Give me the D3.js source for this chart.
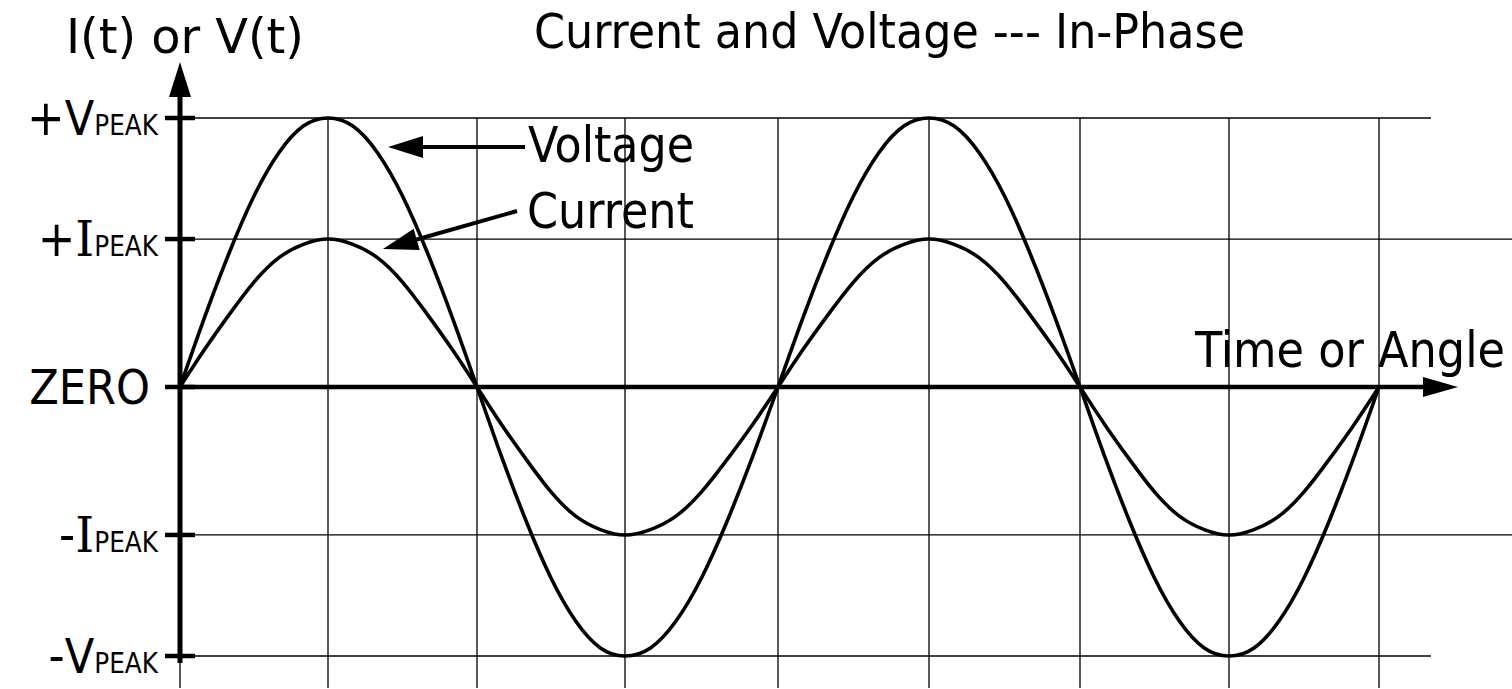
<!DOCTYPE html>
<html>
<head>
<meta charset="utf-8">
<script src="https://cdn.jsdelivr.net/npm/d3@7"></script>
<style>
  body { margin: 0; background: #fff; }
  svg { display: block; font-family: "DejaVu Sans Condensed", "DejaVu Sans", sans-serif; }
</style>
</head>
<body>
<script>
// Angle in degrees, sampled every 15 degrees across two cycles.
var angles = [0, 15, 30, 45, 60, 75, 90, 105, 120, 135, 150, 165,
              180, 195, 210, 225, 240, 255, 270, 285, 300, 315, 330, 345,
              360, 375, 390, 405, 420, 435, 450, 465, 480, 495, 510, 525,
              540, 555, 570, 585, 600, 615, 630, 645, 660, 675, 690, 705, 720];

// Voltage, as a fraction of VPEAK.
var voltage = [0, 0.26, 0.50, 0.71, 0.87, 0.97, 1.00, 0.97, 0.87, 0.71, 0.50, 0.26,
               0, -0.26, -0.50, -0.71, -0.87, -0.97, -1.00, -0.97, -0.87, -0.71, -0.50, -0.26,
               0, 0.26, 0.50, 0.71, 0.87, 0.97, 1.00, 0.97, 0.87, 0.71, 0.50, 0.26,
               0, -0.26, -0.50, -0.71, -0.87, -0.97, -1.00, -0.97, -0.87, -0.71, -0.50, -0.26, 0];

// Current, same scale (IPEAK is a bit over half of VPEAK).
var current = [0, 0.14, 0.27, 0.39, 0.48, 0.53, 0.55, 0.53, 0.48, 0.39, 0.27, 0.14,
               0, -0.14, -0.27, -0.39, -0.48, -0.53, -0.55, -0.53, -0.48, -0.39, -0.27, -0.14,
               0, 0.14, 0.27, 0.39, 0.48, 0.53, 0.55, 0.53, 0.48, 0.39, 0.27, 0.14,
               0, -0.14, -0.27, -0.39, -0.48, -0.53, -0.55, -0.53, -0.48, -0.39, -0.27, -0.14, 0];

// Tick levels on the vertical axis and their labels.
var tickLevels = [1, 0.55, 0, -0.55, -1];
var tickSign = ["+", "+", "", "-", "-"];
var tickLetter = ["V", "I", "ZERO", "I", "V"];
var tickSub = ["PEAK", "PEAK", "", "PEAK", "PEAK"];

// Vertical grid lines, one every quarter cycle.
var gridAngles = [0, 90, 180, 270, 360, 450, 540, 630, 720];

var width = 1512, height = 689;

var svg = d3.select("body").append("svg")
    .attr("width", width)
    .attr("height", height);

// The hand drawing spaces its quarter cycles a little unevenly.
var x = d3.scaleLinear()
    .domain(gridAngles)
    .range([180, 328, 477, 625, 778, 929, 1080, 1229, 1379]);
var y = d3.scaleLinear().domain([-1, 1]).range([656, 118]);

// Grid.
svg.append("g").selectAll("line")
    .data(gridAngles)
    .enter().append("line")
    .attr("x1", function(d) { return x(d); })
    .attr("x2", function(d) { return x(d); })
    .attr("y1", y(1))
    .attr("y2", 688)
    .attr("stroke", "#000")
    .attr("stroke-width", 1.3);

svg.append("g").selectAll("line")
    .data(tickLevels.filter(function(d) { return d !== 0; }))
    .enter().append("line")
    .attr("x1", x(0))
    .attr("x2", function(d) { return Math.abs(d) === 1 ? 1431 : width; })
    .attr("y1", function(d) { return y(d); })
    .attr("y2", function(d) { return y(d); })
    .attr("stroke", "#000")
    .attr("stroke-width", 1.3);

// Curves.
var line = d3.line()
    .x(function(d, i) { return x(angles[i]); })
    .y(function(d) { return y(d); })
    .curve(d3.curveNatural);

[voltage, current].forEach(function(series) {
    svg.append("path")
        .attr("d", line(series))
        .attr("fill", "none")
        .attr("stroke", "#000")
        .attr("stroke-width", 3.6);
});

// Axes with arrow heads.
var x0 = x(0), y0 = y(0);
svg.append("line")
    .attr("x1", x0).attr("x2", x0)
    .attr("y1", 663).attr("y2", 95)
    .attr("stroke", "#000").attr("stroke-width", 5);
svg.append("path")
    .attr("d", "M" + x0 + ",62L" + (x0 - 11) + ",97L" + (x0 + 11) + ",97Z")
    .attr("fill", "#000");

svg.append("line")
    .attr("x1", x0).attr("x2", 1425)
    .attr("y1", y0).attr("y2", y0)
    .attr("stroke", "#000").attr("stroke-width", 4.5);
svg.append("path")
    .attr("d", "M1458," + y0 + "L1423," + (y0 - 10) + "L1423," + (y0 + 10) + "Z")
    .attr("fill", "#000");

// Ticks crossing the vertical axis.
svg.append("g").selectAll("line")
    .data(tickLevels)
    .enter().append("line")
    .attr("x1", x0 - 15).attr("x2", x0 + 15)
    .attr("y1", function(d) { return y(d); })
    .attr("y2", function(d) { return y(d); })
    .attr("stroke", "#000").attr("stroke-width", 4.5);

// Tick labels.
var labels = svg.append("g").selectAll("text")
    .data(tickLevels)
    .enter().append("text")
    .attr("x", function(d, i) { return tickSub[i] ? 158 : 150; })
    .attr("y", function(d) { return y(d) + 17; })
    .attr("text-anchor", "end")
    .attr("fill", "#000");
labels.append("tspan")
    .attr("font-size", 50)
    .text(function(d, i) { return tickSign[i]; });
labels.append("tspan")
    .attr("font-size", 48)
    .attr("font-family", function(d, i) { return tickLetter[i] === "I" ? "DejaVu Serif" : null; })
    .text(function(d, i) { return tickLetter[i]; });
labels.append("tspan")
    .attr("font-size", 27.5)
    .text(function(d, i) { return tickSub[i]; });

// Titles and annotations.
function label(txt, lx, ly, size, len) {
    svg.append("text")
        .attr("x", lx).attr("y", ly)
        .attr("font-size", size)
        .attr("textLength", len)
        .attr("lengthAdjust", "spacingAndGlyphs")
        .attr("fill", "#000")
        .text(txt);
}
label("Current and Voltage --- In-Phase", 534, 48, 48, 711);
label("I(t) or V(t)", 66, 53, 48, 238);
label("Time or Angle", 1195, 367, 50, 310);
label("Voltage", 528, 162, 50, 166);
label("Current", 527, 228, 50, 167);

// Arrow from "Voltage" to its curve.
svg.append("line")
    .attr("x1", 525).attr("y1", 147).attr("x2", 420).attr("y2", 147)
    .attr("stroke", "#000").attr("stroke-width", 4);
svg.append("path")
    .attr("d", "M388,147L423,136L423,158Z")
    .attr("fill", "#000");

// Arrow from "Current" to its curve.
var tip = [383, 249], tail = [517, 211];
var dx = tail[0] - tip[0], dy = tail[1] - tip[1];
var len = Math.sqrt(dx * dx + dy * dy), ux = dx / len, uy = dy / len;
var bx = tip[0] + ux * 35, by = tip[1] + uy * 35;
svg.append("line")
    .attr("x1", tail[0]).attr("y1", tail[1]).attr("x2", bx).attr("y2", by)
    .attr("stroke", "#000").attr("stroke-width", 4);
svg.append("path")
    .attr("d", "M" + tip[0] + "," + tip[1] +
               "L" + (bx - uy * 11) + "," + (by + ux * 11) +
               "L" + (bx + uy * 11) + "," + (by - ux * 11) + "Z")
    .attr("fill", "#000");
</script>
</body>
</html>
